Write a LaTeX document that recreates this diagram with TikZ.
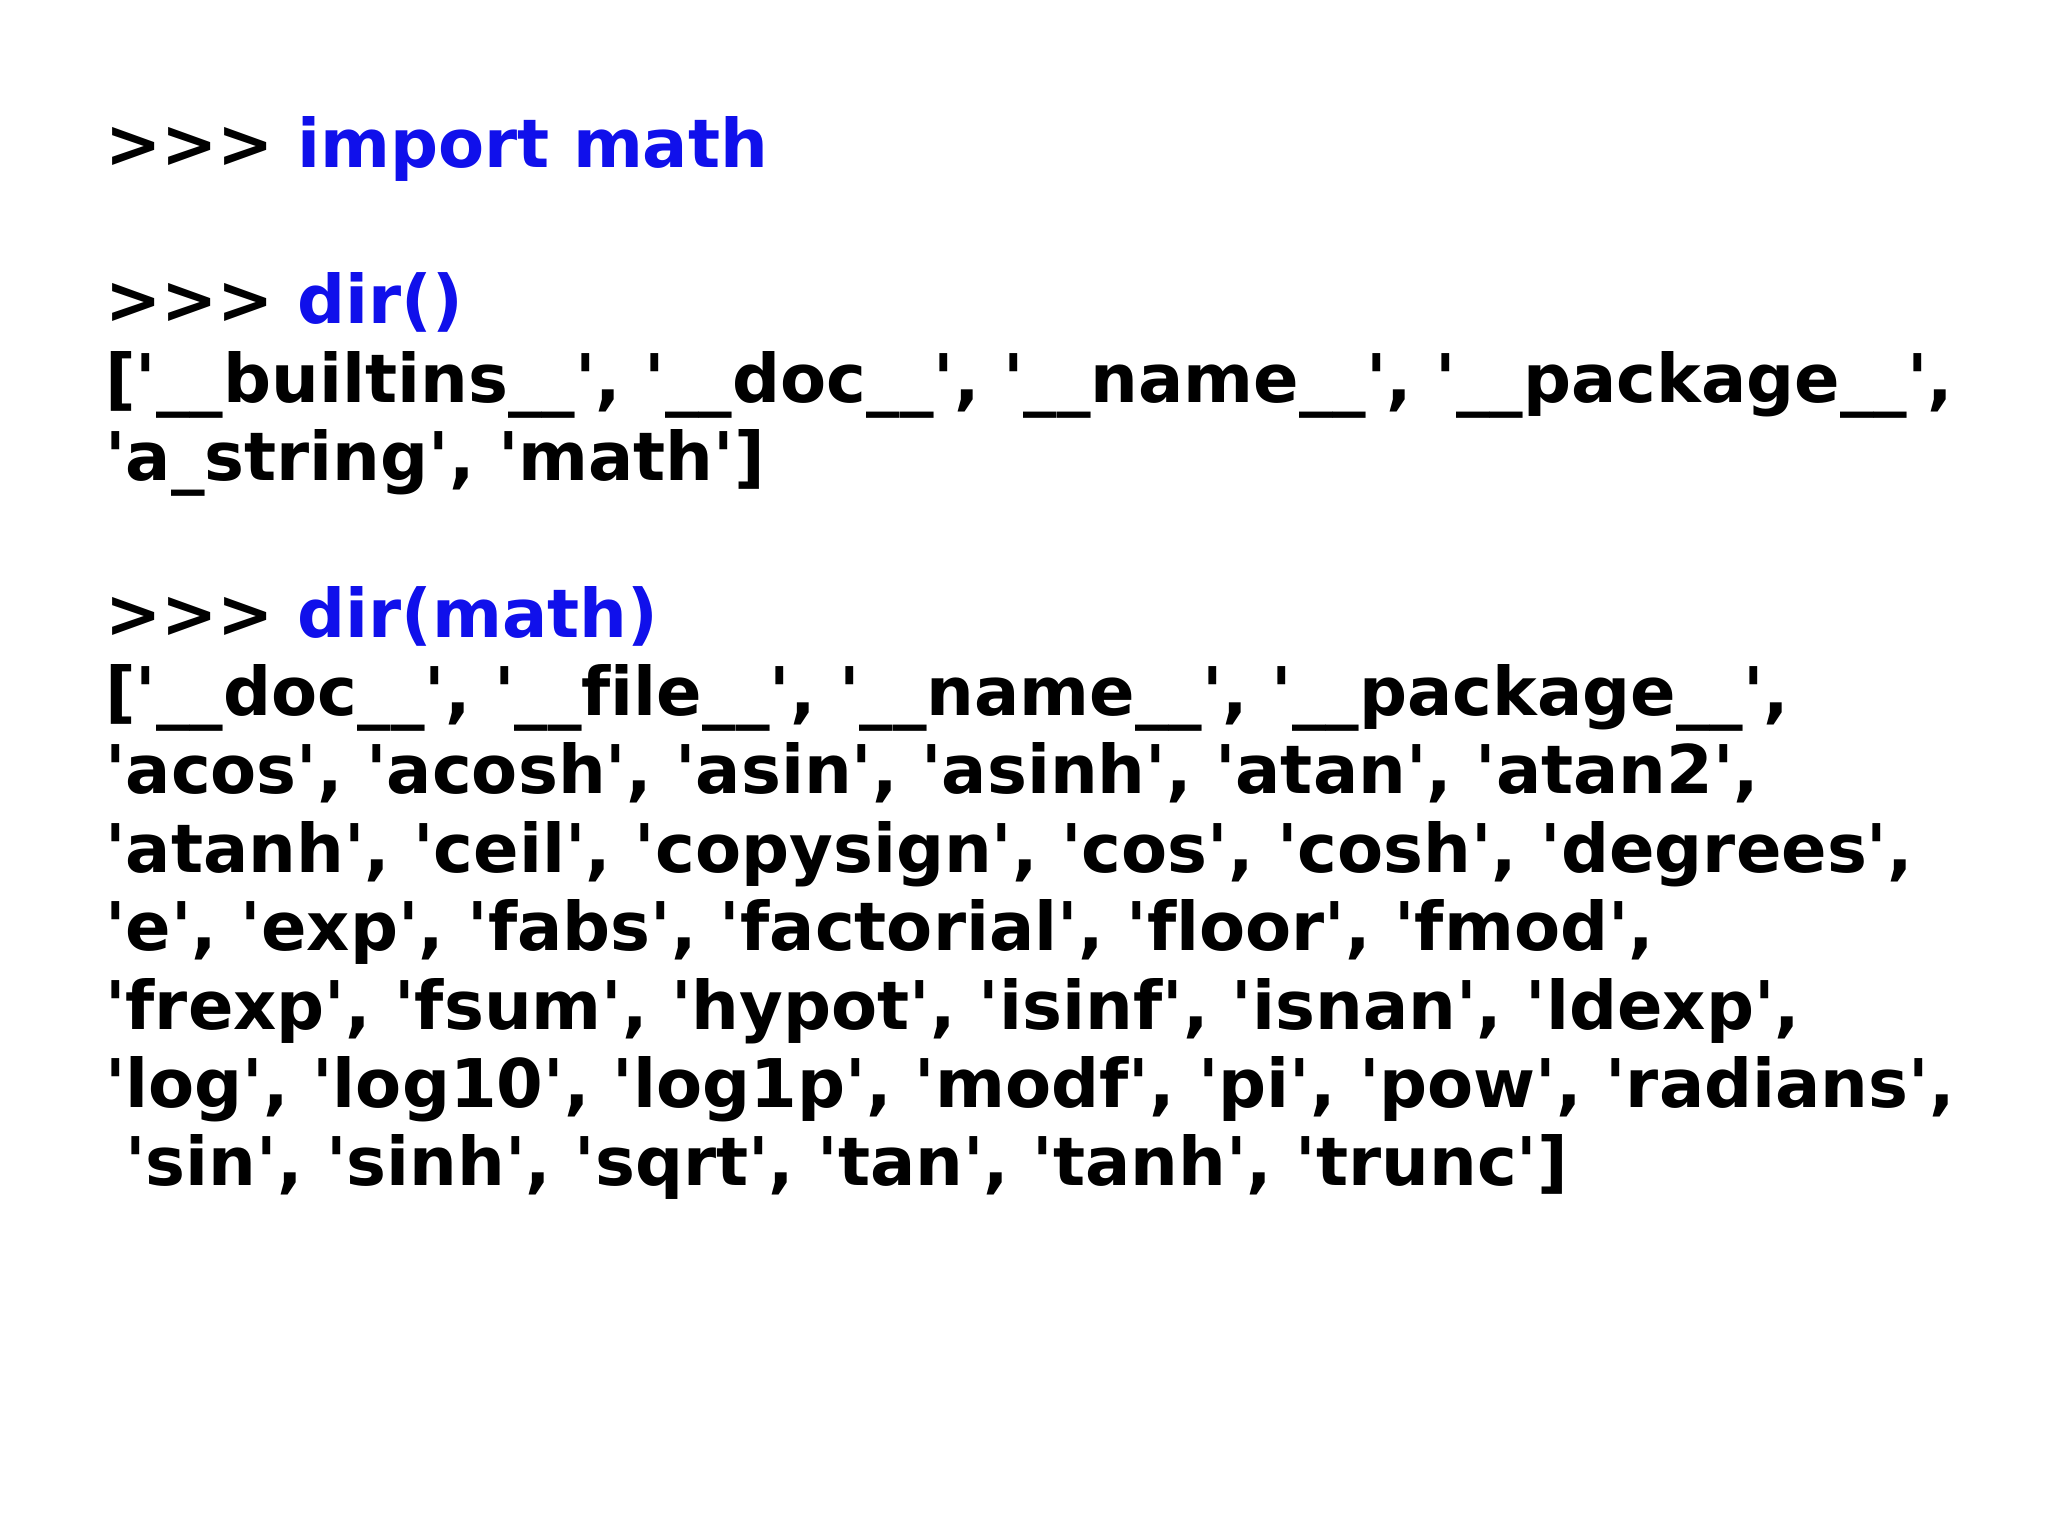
\documentclass[tikz,border=0pt]{standalone}
\usepackage{fontspec}
\setmainfont{DejaVu Sans}[Ligatures={TeXOff,NoCommon}]
\definecolor{kw}{RGB}{16,16,235}
\begin{document}
\begin{tikzpicture}[x=1cm,y=1cm,
  ln/.style={anchor=base west,inner sep=0pt,font=\fontsize{19.1}{21}\selectfont\bfseries}]
\useasboundingbox (0,0) rectangle (20.48,15.37);
\def\X{1.045}
\node[ln] (l1) at (\X,{15.37-1.672}) {>>> \textcolor{kw}{import math}};
\node[ln] (l2) at (\X,{15.37-3.239}) {>>> \textcolor{kw}{dir()}};
\node[ln] (l3) at (\X,{15.37-4.023}) {['\_\_builtins\_\_', '\_\_doc\_\_', '\_\_name\_\_', '\_\_package\_\_',};
\node[ln] (l4) at (\X,{15.37-4.806}) {'a\_string', 'math']};
\node[ln] (l5) at (\X,{15.37-6.373}) {>>> \textcolor{kw}{dir(math)}};
\node[ln] (l6) at (\X,{15.37-7.157}) {['\_\_doc\_\_', '\_\_file\_\_', '\_\_name\_\_', '\_\_package\_\_',};
\node[ln] (l7) at (\X,{15.37-7.940}) {'acos', 'acosh', 'asin', 'asinh', 'atan', 'atan2',};
\node[ln] (l8) at (\X,{15.37-8.724}) {'atanh', 'ceil', 'copysign', 'cos', 'cosh', 'degrees',};
\node[ln] (l9) at (\X,{15.37-9.507}) {'e', 'exp', 'fabs', 'factorial', 'floor', 'fmod',};
\node[ln] (l10) at (\X,{15.37-10.291}) {'frexp', 'fsum', 'hypot', 'isinf', 'isnan', 'ldexp',};
\node[ln] (l11) at (\X,{15.37-11.074}) {'log', 'log10', 'log1p', 'modf', 'pi', 'pow', 'radians',};
\node[ln] (l12) at (\X,{15.37-11.858}) {\hspace{0.3em}'sin', 'sinh', 'sqrt', 'tan', 'tanh', 'trunc']};
\end{tikzpicture}
\end{document}
